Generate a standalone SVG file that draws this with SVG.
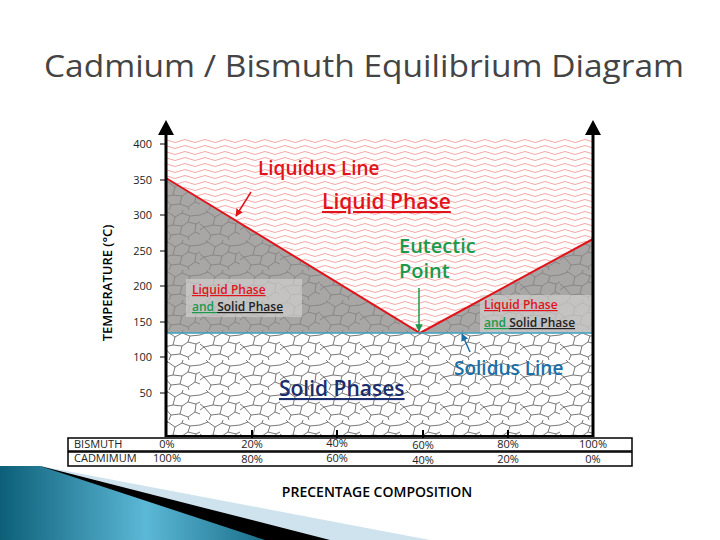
<svg xmlns="http://www.w3.org/2000/svg" width="720" height="540" viewBox="0 0 720 540">
<defs>
<style>
.t{font-family:"Open Sans","DejaVu Sans",sans-serif}
.b{font-weight:600}
.ax{font-family:"Open Sans","DejaVu Sans",sans-serif;font-size:11px;fill:#222}
.tb{font-family:"Open Sans","DejaVu Sans",sans-serif;font-size:11px;fill:#222;text-anchor:middle}
</style>
<pattern id="wave" width="20" height="6" patternUnits="userSpaceOnUse">
<path d="M0 3 Q5 0 10 3 T20 3" fill="none" stroke="#f08080" stroke-width="0.7"/>
</pattern>
<pattern id="cells" width="40" height="30" patternUnits="userSpaceOnUse">
<path d="M0 5 L8 2 L15 7 L22 3 L30 6 L40 5 M8 2 L6 0 M22 3 L23 0 M15 7 L13 15 L4 17 L0 14 M13 15 L22 16 L28 12 L30 6 M28 12 L36 14 L40 12 M22 16 L20 24 L11 25 L4 17 M20 24 L28 27 L35 22 L36 14 M11 25 L9 30 M28 27 L29 30 M35 22 L40 24 M4 17 L0 20" fill="none" stroke="#555" stroke-width="0.8"/>
</pattern>
<linearGradient id="sw" x1="0" y1="0" x2="1" y2="0">
<stop offset="0" stop-color="#0d5f78"/><stop offset="0.55" stop-color="#5bb8d6"/><stop offset="1" stop-color="#1a6f8a"/>
</linearGradient>
<marker id="ar" viewBox="0 0 10 10" refX="9" refY="5" markerWidth="5" markerHeight="5" orient="auto"><path d="M0 0 L10 5 L0 10 Z" fill="context-stroke"/></marker>
</defs>
<rect width="720" height="540" fill="#fff"/>
<text x="364" y="77" class="t" font-size="31" fill="#444" text-anchor="middle" textLength="640" lengthAdjust="spacingAndGlyphs">Cadmium / Bismuth Equilibrium Diagram</text>

<g id="plot">
<rect x="166" y="137" width="427" height="299" fill="#fff"/>
<rect x="166" y="137" width="427" height="299" fill="url(#wave)"/>
<polygon points="166,178 420,333 593,239 593,333 166,333" fill="#a9a6a6"/>
<polygon points="166,178 420,333 593,239 593,333 166,333" fill="url(#cells)" opacity="0.5"/>
<rect x="166" y="333" width="427" height="103" fill="#fff"/>
<rect x="166" y="333" width="427" height="103" fill="url(#cells)"/>
<rect x="186" y="279" width="116" height="38" fill="#d8d6d6" opacity="0.6"/>
<rect x="480" y="295" width="112" height="38" fill="#d8d6d6" opacity="0.6"/>
</g>

<g id="connectors">
<polyline points="166,178 420,333 593,239" fill="none" stroke="#e0141a" stroke-width="2"/>
<line x1="166" y1="333" x2="593" y2="333" stroke="#3aa0c0" stroke-width="1.5"/>
<line x1="166" y1="437" x2="166" y2="130" stroke="#000" stroke-width="3"/>
<polygon points="158,135 166,120 174,135" fill="#000"/>
<line x1="593" y1="437" x2="593" y2="130" stroke="#000" stroke-width="3"/>
<polygon points="585,135 593,120 601,135" fill="#000"/>
<line x1="166" y1="436" x2="593" y2="436" stroke="#000" stroke-width="2"/>
<g stroke="#000" stroke-width="2"><line x1="252" y1="430" x2="252" y2="440"/><line x1="337" y1="430" x2="337" y2="440"/><line x1="423" y1="430" x2="423" y2="440"/><line x1="508" y1="430" x2="508" y2="440"/></g>
<g stroke="#000" stroke-width="1"><line x1="160" y1="144" x2="166" y2="144"/><line x1="160" y1="180" x2="166" y2="180"/><line x1="160" y1="215" x2="166" y2="215"/><line x1="160" y1="251" x2="166" y2="251"/><line x1="160" y1="286" x2="166" y2="286"/><line x1="160" y1="322" x2="166" y2="322"/><line x1="160" y1="357" x2="166" y2="357"/><line x1="160" y1="393" x2="166" y2="393"/></g>
<line x1="251" y1="192" x2="236" y2="216" stroke="#e0141a" stroke-width="1.5" marker-end="url(#ar)"/>
<line x1="419" y1="288" x2="419" y2="331" stroke="#1a9a4a" stroke-width="1.5" marker-end="url(#ar)"/>
<line x1="470" y1="352" x2="462" y2="334" stroke="#1a6fa8" stroke-width="1.5" marker-end="url(#ar)"/>
</g>

<g id="yaxis">
<text x="152" y="148" class="ax" text-anchor="end">400</text>
<text x="152" y="184" class="ax" text-anchor="end">350</text>
<text x="152" y="219" class="ax" text-anchor="end">300</text>
<text x="152" y="255" class="ax" text-anchor="end">250</text>
<text x="152" y="290" class="ax" text-anchor="end">200</text>
<text x="152" y="326" class="ax" text-anchor="end">150</text>
<text x="152" y="361" class="ax" text-anchor="end">100</text>
<text x="152" y="397" class="ax" text-anchor="end">50</text>
<text transform="translate(112,283) rotate(-90)" class="t b" font-size="13" fill="#000" text-anchor="middle">TEMPERATURE (°C)</text>
</g>

<g id="labels">
<text x="258" y="175" class="t b" font-size="19" fill="#e0141a">Liquidus Line</text>
<text x="322" y="209" class="t b" font-size="21" fill="#e0141a" text-decoration="underline">Liquid Phase</text>
<text x="399" y="253" class="t b" font-size="20" fill="#1a9a4a">Eutectic</text>
<text x="399" y="278" class="t b" font-size="20" fill="#1a9a4a">Point</text>
<text x="192" y="294" class="t b" font-size="12" fill="#e0141a" text-decoration="underline">Liquid Phase</text>
<text x="192" y="311" class="t b" font-size="12"><tspan fill="#1a9a4a" text-decoration="underline">and </tspan><tspan fill="#222" text-decoration="underline">Solid Phase</tspan></text>
<text x="484" y="309" class="t b" font-size="12" fill="#e0141a" text-decoration="underline">Liquid Phase</text>
<text x="484" y="327" class="t b" font-size="12"><tspan fill="#1a9a4a" text-decoration="underline">and </tspan><tspan fill="#222" text-decoration="underline">Solid Phase</tspan></text>
<text x="454" y="375" class="t b" font-size="19" fill="#1a6fa8">Solidus Line</text>
<text x="279" y="396" class="t b" font-size="21" fill="#1a2e6e" text-decoration="underline">Solid Phases</text>
</g>

<g id="table">
<rect x="68" y="438" width="564" height="13" fill="#fff" stroke="#000" stroke-width="1.5"/>
<rect x="68" y="452" width="564" height="14" fill="#fff" stroke="#000" stroke-width="1.5"/>
<text x="74" y="448" class="ax">BISMUTH</text>
<text x="74" y="462" class="ax">CADMIMUM</text>
<text x="167" y="448" class="tb">0%</text><text x="252" y="448" class="tb">20%</text><text x="337" y="447" class="tb">40%</text><text x="423" y="449" class="tb">60%</text><text x="508" y="448" class="tb">80%</text><text x="593" y="448" class="tb">100%</text>
<text x="167" y="462" class="tb">100%</text><text x="252" y="463" class="tb">80%</text><text x="337" y="462" class="tb">60%</text><text x="423" y="464" class="tb">40%</text><text x="508" y="463" class="tb">20%</text><text x="593" y="463" class="tb">0%</text>
<text x="377" y="497" class="t b" font-size="14" fill="#000" text-anchor="middle">PRECENTAGE COMPOSITION</text>
</g>

<g id="swoosh">
<polygon points="40,466 430,540 0,540" fill="#cfe3ee"/>
<polygon points="40,466 330,540 180,540" fill="#000"/>
<polygon points="0,466 40,466 265,540 0,540" fill="url(#sw)"/>
</g>
</svg>
